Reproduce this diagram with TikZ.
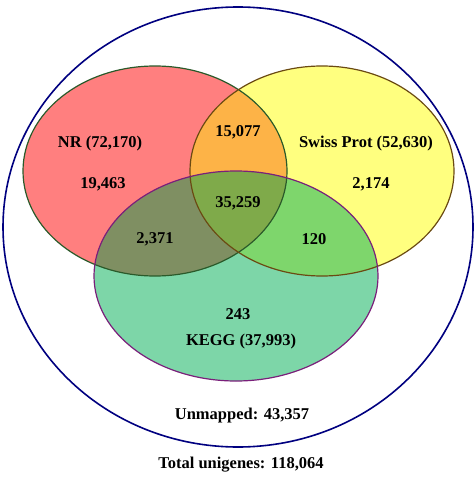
\documentclass[tikz,border=0pt]{standalone}
\usepackage{fontspec}
\setmainfont{Liberation Serif}
\definecolor{nrc}{HTML}{FF7F7F}
\definecolor{spc}{HTML}{FFFF7F}
\definecolor{kgc}{HTML}{7DD6A8}
\definecolor{nrsp}{HTML}{FDB347}
\definecolor{nrkg}{HTML}{7F8F62}
\definecolor{spkg}{HTML}{7ED66C}
\definecolor{allc}{HTML}{7FAA4A}
\definecolor{nrline}{HTML}{2A5A2A}
\definecolor{spline}{HTML}{6B4A12}
\definecolor{kgline}{HTML}{7A1F7A}
\definecolor{outline}{HTML}{000080}
\tikzset{
  lbl/.style={font=\bfseries\fontsize{16.5}{19}\selectfont, text=black, inner sep=1pt},
}
\def\nrpath{(155,171) ellipse [x radius=132pt, y radius=105pt]}
\def\sppath{(322,171) ellipse [x radius=132pt, y radius=105pt]}
\def\kgpath{(236,276) ellipse [x radius=142pt, y radius=105pt]}
\begin{document}
\begin{tikzpicture}[x=1pt,y=-1pt]
\useasboundingbox (0,0) rectangle (474,482);
\fill[white] (0,0) rectangle (474,482);
% outer set
\draw[outline, line width=1.6pt] (238,227) ellipse [x radius=235pt, y radius=220pt];
% fills
\fill[nrc] \nrpath;
\fill[spc] \sppath;
\fill[kgc] \kgpath;
\begin{scope}
  \clip \nrpath;
  \fill[nrsp] \sppath;
  \fill[nrkg] \kgpath;
\end{scope}
\begin{scope}
  \clip \sppath;
  \fill[spkg] \kgpath;
\end{scope}
\begin{scope}
  \clip \nrpath;
  \clip \sppath;
  \fill[allc] \kgpath;
\end{scope}
% outlines
\draw[nrline, line width=1.2pt] \nrpath;
\draw[spline, line width=1.2pt] \sppath;
\draw[kgline, line width=1.2pt] \kgpath;
% labels
\node[lbl] (nr) at (100,144) {NR (72,170)};
\node[lbl] (nronly) at (103,184) {19,463};
\node[lbl] (nrsp) at (238,132) {15,077};
\node[lbl] (sp) at (366,144) {Swiss Prot (52,630)};
\node[lbl] (sponly) at (371,184) {2,174};
\node[lbl] (all) at (238,203) {35,259};
\node[lbl] (nrkg) at (155,239) {2,371};
\node[lbl] (spkg) at (314,239) {120};
\node[lbl] (kgonly) at (238,314) {243};
\node[lbl] (kg) at (241,342) {KEGG (37,993)};
\node[lbl] (unm) at (242,416) {Unmapped: 43,357};
\node[lbl] (tot) at (241,465) {Total unigenes: 118,064};
\end{tikzpicture}
\end{document}
